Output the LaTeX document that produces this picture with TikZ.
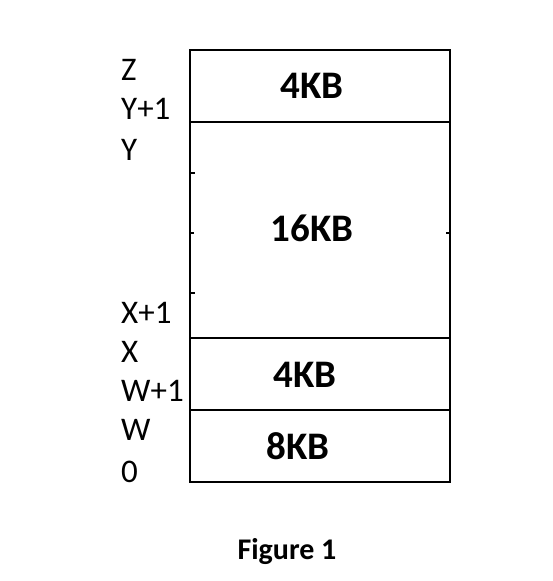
\documentclass[tikz,border=0pt]{standalone}
\usepackage{fontspec}
\setmainfont{Carlito}
\usepackage{tikz}
\tikzset{
  addr/.style = {anchor=base west, inner sep=0pt, font=\fontsize{33}{33}\selectfont},
  size/.style = {inner sep=0pt, font=\fontsize{39}{39}\selectfont\bfseries},
  wall/.style = {line width=2.8pt, black}
}

\begin{document}
\begin{tikzpicture}[x=1pt, y=-1pt]
            \useasboundingbox (0,0) rectangle (553,581);

            % memory blocks
            \draw [wall] (190,50) rectangle (450,482);
            \draw [wall] (190,122) -- (450,122);
            \draw [wall] (190,338) -- (450,338);
            \draw [wall] (190,410) -- (450,410);

            % small ticks on the walls
            \draw [line width=2pt] (190,173) -- (195,173);
            \draw [line width=2pt] (190,233) -- (194,233);
            \draw [line width=2pt] (190,293) -- (195,293);
            \draw [line width=2pt] (450,233) -- (446,233);

            % block sizes
            \node [size] (topKB)  at (312,86)  {4KB};
            \node [size] (midKB)  at (312,228) {16KB};
            \node [size] (lowKB)  at (305,375) {4KB};
            \node [size] (baseKB) at (298,446) {8KB};

            % addresses
            \node [addr] (aZ)  at (121,80)  {Z};
            \node [addr] (aY1) at (121,119) {Y+1};
            \node [addr] (aY)  at (121,160) {Y};
            \node [addr] (aX1) at (121,323) {X+1};
            \node [addr] (aX)  at (121,362) {X};
            \node [addr] (aW1) at (121,401) {W+1};
            \node [addr] (aW)  at (121,440) {W};
            \node [addr] (a0)  at (121,482) {0};

            \node [size, font=\fontsize{30}{30}\selectfont\bfseries] (caption) at (287,552) {Figure 1};
\end{tikzpicture}
\end{document}
